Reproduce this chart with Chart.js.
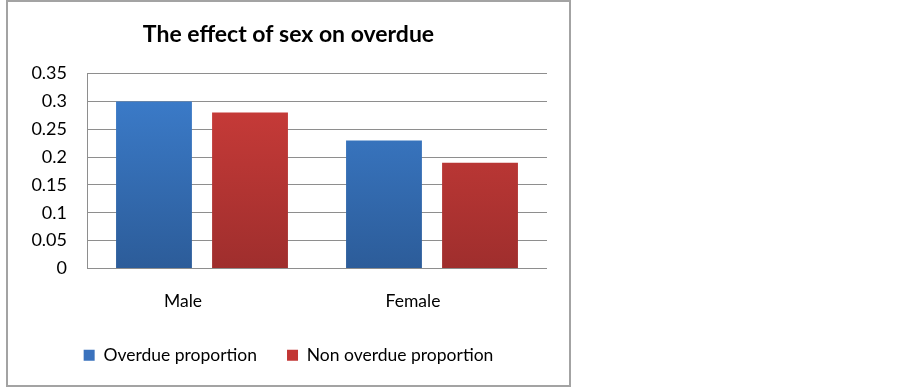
<!DOCTYPE html>
<html>
<head>
<meta charset="utf-8">
<script src="https://cdn.jsdelivr.net/npm/chart.js@4/dist/chart.umd.min.js"></script>
<style>
  html, body { margin: 0; padding: 0; background: #fff; }
  #frame {
    position: absolute; left: 6px; top: 0px;
    width: 561px; height: 383px;
    border: 2px solid #a3a3a3;
  }
  #chart { display: block; }
</style>
</head>
<body>
<div id="frame"><canvas id="chart" width="561" height="383"></canvas></div>
<script>
const categories = ['Male', 'Female'];
const overdue = [0.30, 0.23];
const nonOverdue = [0.28, 0.19];
const yTickLabels = ['0', '0.05', '0.1', '0.15', '0.2', '0.25', '0.3', '0.35'];

const FONT = 'Lato';
const blueTop = '#3d7fcf', blueBottom = '#2c5c99';
const redTop = '#ce3d3a', redBottom = '#9f2e2d';
const legendColors = ['#3a72bd', '#c23634'];

function grad(top, bottom) {
  return function (ctx) {
    const area = ctx.chart.chartArea;
    if (!area) return top;
    const g = ctx.chart.ctx.createLinearGradient(0, area.top, 0, area.bottom);
    g.addColorStop(0, top);
    g.addColorStop(1, bottom);
    return g;
  };
}

const data = {
  labels: categories,
  datasets: [
    { label: 'Overdue proportion', data: overdue, backgroundColor: grad(blueTop, blueBottom) },
    { label: 'Non overdue proportion', data: nonOverdue, backgroundColor: grad(redTop, redBottom) }
  ]
};

const config = {
  type: 'bar',
  data: data,
  options: {
    responsive: false,
    animation: false,
    layout: { padding: { left: 0, right: 0, top: 0, bottom: 11 } },
    datasets: { bar: { categoryPercentage: 0.835, barPercentage: 0.79 } },
    plugins: {
      title: {
        display: true,
        text: 'The effect of sex on overdue',
        color: '#000',
        font: { family: FONT, size: 23, weight: 'bold' },
        padding: { top: 19, bottom: 25 }
      },
      legend: {
        position: 'bottom',
        labels: {
          color: '#000',
          font: { family: FONT, size: 17.5 },
          boxWidth: 11,
          boxHeight: 11,
          padding: 30,
          generateLabels: function (chart) {
            const items = Chart.defaults.plugins.legend.labels.generateLabels(chart);
            items.forEach(function (it, i) {
              it.fillStyle = legendColors[i];
              it.strokeStyle = legendColors[i];
              it.lineWidth = 0;
            });
            return items;
          }
        }
      },
      tooltip: { enabled: false }
    },
    scales: {
      x: {
        grid: { display: false, drawTicks: false },
        border: { display: false },
        ticks: { color: '#000', font: { family: FONT, size: 17.5 }, padding: 22, labelOffset: -19 },
        afterFit: function (s) { s.height = 48; }
      },
      y: {
        min: 0,
        max: 0.35,
        grid: { color: '#8e8e8e', drawTicks: false },
        border: { display: true, color: '#8e8e8e' },
        ticks: {
          stepSize: 0.05,
          color: '#000',
          font: { family: FONT, size: 18 },
          padding: 20,
          callback: function (v, i) { return yTickLabels[i]; }
        },
        afterFit: function (s) { s.width = 79; }
      },
      // empty right-hand axis, only to keep the plot clear of the frame
      yRight: {
        position: 'right',
        min: 0,
        max: 0.35,
        grid: { display: false, drawTicks: false },
        border: { display: false },
        ticks: { display: false },
        afterFit: function (s) { s.width = 22; }
      }
    }
  }
};

const myChart = new Chart(document.getElementById('chart'), config);
</script>
</body>
</html>
